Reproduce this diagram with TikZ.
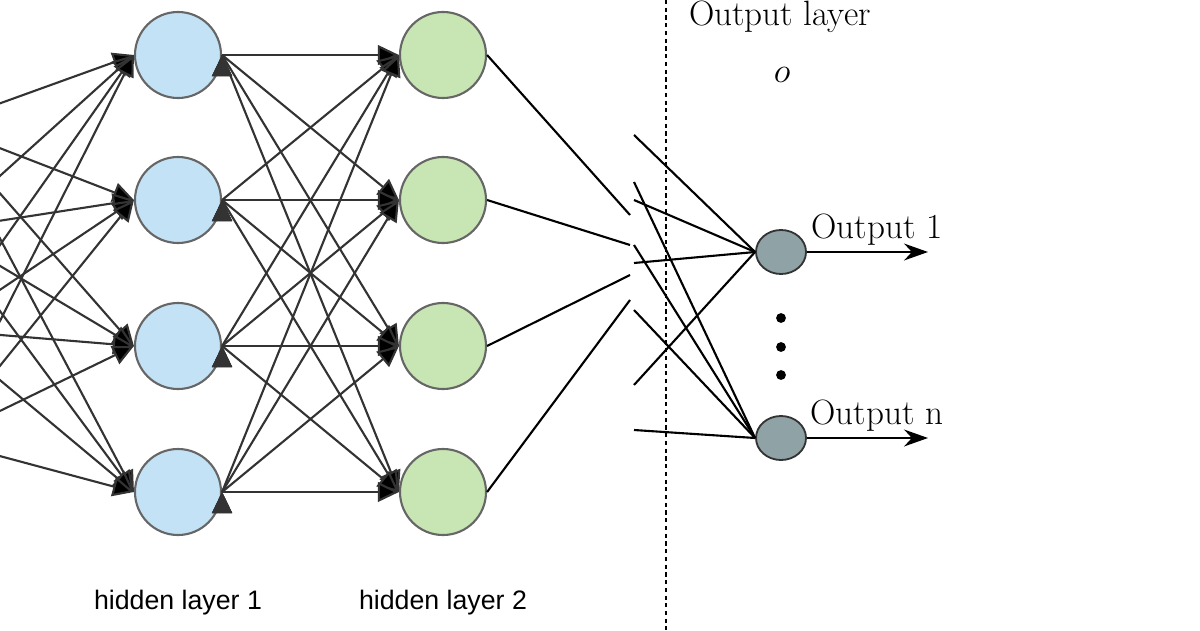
\documentclass[tikz,border=0pt]{standalone}
\usepackage{fontspec}
\newfontfamily\labelfont{Liberation Sans}
\usetikzlibrary{arrows.meta,shapes.geometric}
\definecolor{hidblue}{HTML}{C3E2F5}
\definecolor{hidgreen}{HTML}{C8E6B4}
\definecolor{outgray}{HTML}{8FA2A6}
\definecolor{edgegray}{HTML}{333333}
\tikzset{
  hid1/.style={shape=circle,draw=gray!80!black,fill=hidblue,line width=1.5pt,minimum size=2.15cm,inner sep=0pt},
  hid2/.style={hid1,fill=hidgreen},
  outn/.style={shape=ellipse,draw=black!80,fill=outgray,line width=1.3pt,minimum width=1.25cm,minimum height=1.1cm,inner sep=0pt},
  conn/.style={draw=edgegray,line width=1.5pt},
  arr/.style={conn,-{Triangle[length=15pt,width=14pt]}},
  big/.style={font=\fontsize{25}{29}\selectfont},
}
\begin{document}
\begin{tikzpicture}[x=0.025cm,y=-0.025cm]
\useasboundingbox (0,0) rectangle (1200,630);
\begin{scope}
\clip (0,0) rectangle (1200,630);
% inputs (off the page)
\foreach \i/\y in {1/125,2/230,3/330,4/440}
  \coordinate (in\i) at (-60,\y);
% hidden layers
\foreach \j/\y in {1/55,2/200,3/346,4/492} {
  \node[hid1] (A\j) at (178,\y) {};
  \node[hid2] (B\j) at (443,\y) {};
}
\foreach \i in {1,...,4}
  \foreach \j in {1,...,4}
    \path [arr] (in\i) edge (A\j.west);
\foreach \i in {1,...,4}
  \foreach \j in {1,...,4}
    \path [arr] (A\i.east) edge (B\j.west);
% cut ends
\foreach \j/\y in {1/215,2/245,3/275,4/300}
  \coordinate (cut\j) at (630,\y);
\foreach \j in {1,...,4}
  \path [conn,draw=black] (B\j.east) edge (cut\j);
\end{scope}
% output layer
\draw[line width=1.4pt,dash pattern=on 3pt off 2.5pt] (666,0) -- (666,630);
\node[big] (title) at (780,17) {Output layer};
\node[big] (o) at (782,75) {$o$};
\node[outn] (O1) at (781,252) {};
\node[outn] (On) at (781,438) {};
\foreach \y in {318,347,375}
  \fill (781,\y) circle (3.5pt);
\foreach \k/\y in {a/135,b/200,c/263,d/385}
  \coordinate (p\k) at (634,\y);
\foreach \k/\y in {e/182,f/245,g/310,h/430}
  \coordinate (p\k) at (634,\y);
\foreach \k in {a,b,c,d}
  \path [draw,line width=1.5pt] (p\k) edge (O1.west);
\foreach \k in {e,f,g,h}
  \path [draw,line width=1.5pt] (p\k) edge (On.west);
\coordinate (end1) at (928,252);
\coordinate (endn) at (928,438);
\draw[line width=1.5pt,-{Stealth[length=17pt,width=12pt]}] (O1) -- (end1);
\draw[line width=1.5pt,-{Stealth[length=17pt,width=12pt]}] (On) -- (endn);
\node[big] (l1) at (877,230) {Output 1};
\node[big] (ln) at (877,416) {Output n};
\node[font=\labelfont\fontsize{19}{22}\selectfont] (h1) at (178,603) {hidden layer 1};
\node[font=\labelfont\fontsize{19}{22}\selectfont] (h2) at (443,603) {hidden layer 2};
\end{tikzpicture}
\end{document}
